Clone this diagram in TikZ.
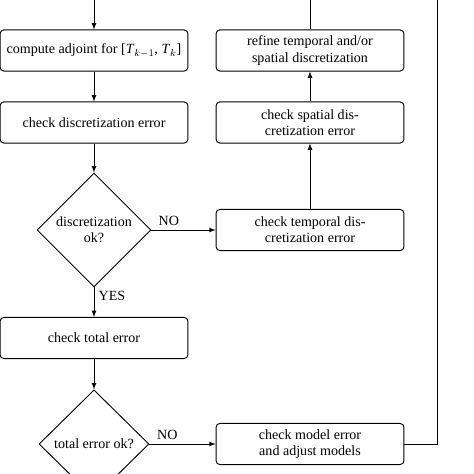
\documentclass[tikz,border=0pt]{standalone}
\usepackage{amsmath}
\usepackage{fontspec}
\setmainfont{Liberation Serif}
\usepackage{tikz}
\usetikzlibrary{shapes.geometric}

\tikzset{
    stepbox/.style={draw, rounded corners=3pt, minimum width=5.26cm, minimum height=1.15cm, align=center, inner sep=2pt},
    decision/.style={draw, diamond, align=center, inner sep=0pt},
    flow/.style={->, >=latex},
}

\begin{document}
\begin{tikzpicture}[x=0.028cm, y=-0.028cm, line width=0.75pt, font=\fontsize{11.2}{13}\selectfont]

        \useasboundingbox (0,0) rectangle (474,474);

        % left column
        \coordinate (start) at (94,0);
        \node[stepbox] (adjoint) at (94,50.5) {compute adjoint for [\textit{T}$_{k-1}$, \textit{T}$_k$]};
        \node[stepbox] (discerr) at (94,122.5) {check discretization error};
        \node[decision, minimum width=3.19cm, minimum height=3.19cm] (discok) at (94,230) {discretization\\ok?};
        \node[stepbox] (toterr) at (94,338) {check total error};
        \node[decision, minimum width=3.08cm, minimum height=3.03cm] (totok) at (94,444) {total error ok?};

        % right column
        \node[stepbox] (refine) at (310,50.5) {refine temporal and/or\\spatial discretization};
        \node[stepbox] (spatial) at (310,122.5) {check spatial dis-\\cretization error};
        \node[stepbox] (temporal) at (310,230) {check temporal dis-\\cretization error};
        \node[stepbox] (model) at (310,444) {check model error\\and adjust models};
        \coordinate (reftop) at (310,0);
        \coordinate (corner) at (437,444);
        \coordinate (looptop) at (437,0);

        \draw[flow] (start) -- (adjoint);
        \draw[flow] (adjoint) -- (discerr);
        \draw[flow] (discerr) -- (discok);
        \draw[flow] (discok) -- node[pos=0.3, right] {YES} (toterr);
        \draw[flow] (toterr) -- (totok);

        \draw[flow] (discok) -- node[pos=0.27, above] {NO} (temporal);
        \draw[flow] (temporal) -- (spatial);
        \draw[flow] (spatial) -- (refine);
        \draw (refine) -- (reftop);

        \draw[flow] (totok) -- node[pos=0.27, above] {NO} (model);
        \draw (model) -- (corner) -- (looptop);
\end{tikzpicture}
\end{document}
